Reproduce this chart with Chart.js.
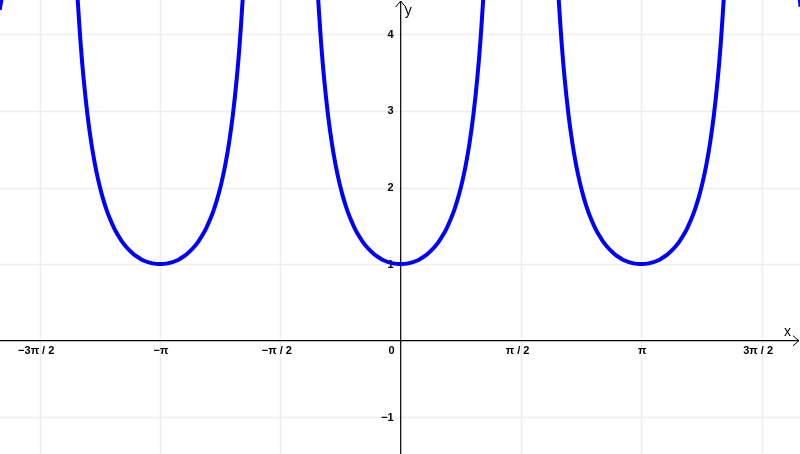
<!DOCTYPE html>
<html>
<head>
<meta charset="utf-8">
<script src="https://cdn.jsdelivr.net/npm/chart.js@4.4.1/dist/chart.umd.min.js"></script>
<style>
  html, body { margin: 0; padding: 0; background: #fff; }
  #plot { display: block; }
</style>
</head>
<body>
<canvas id="plot" width="800" height="454"></canvas>
<script>
// Values (x in radians, y)
const leftEdgeX = [-5.235, -5.215, -5.200];
const leftEdgeY = [4.32, 4.44, 4.55];

const branchNegPiX = [-4.22, -4.18, -4.14, -4.09, -4.04, -3.99, -3.94, -3.89, -3.84, -3.79, -3.74, -3.69, -3.64, -3.59, -3.54,
                      -3.49, -3.44, -3.39, -3.34, -3.29, -3.24, -3.19, -3.14, -3.09, -3.04, -2.99, -2.94, -2.89, -2.84, -2.79,
                      -2.74, -2.69, -2.64, -2.59, -2.54, -2.49, -2.44, -2.39, -2.34, -2.29, -2.24, -2.19, -2.14, -2.10, -2.06];
const branchZeroX = [-1.08, -1.04, -1.00, -0.95, -0.90, -0.85, -0.80, -0.75, -0.70, -0.65, -0.60, -0.55, -0.50, -0.45, -0.40,
                     -0.35, -0.30, -0.25, -0.20, -0.15, -0.10, -0.05, 0, 0.05, 0.10, 0.15, 0.20, 0.25, 0.30, 0.35,
                     0.40, 0.45, 0.50, 0.55, 0.60, 0.65, 0.70, 0.75, 0.80, 0.85, 0.90, 0.95, 1.00, 1.04, 1.08];
const branchPiX = [2.06, 2.10, 2.14, 2.19, 2.24, 2.29, 2.34, 2.39, 2.44, 2.49, 2.54, 2.59, 2.64, 2.69, 2.74,
                   2.79, 2.84, 2.89, 2.94, 2.99, 3.04, 3.09, 3.14, 3.19, 3.24, 3.29, 3.34, 3.39, 3.44, 3.49,
                   3.54, 3.59, 3.64, 3.69, 3.74, 3.79, 3.84, 3.89, 3.94, 3.99, 4.04, 4.09, 4.14, 4.18, 4.22];
// the three full branches have the same shape
const branchY = [4.501, 3.902, 3.426, 2.955, 2.588, 2.296, 2.060, 1.868, 1.709, 1.578, 1.468, 1.376, 1.298, 1.233, 1.179,
                 1.133, 1.096, 1.065, 1.041, 1.023, 1.010, 1.003, 1.000, 1.003, 1.010, 1.023, 1.041, 1.065, 1.096, 1.133,
                 1.179, 1.233, 1.298, 1.376, 1.468, 1.578, 1.709, 1.868, 2.060, 2.296, 2.588, 2.955, 3.426, 3.902, 4.501];

const rightEdgeX = [5.200, 5.210, 5.220];
const rightEdgeY = [4.55, 4.46, 4.36];

const xTickValues = [-1.5 * Math.PI, -Math.PI, -0.5 * Math.PI, 0.5 * Math.PI, Math.PI, 1.5 * Math.PI];
const xTickLabels = ['\u22123\u03c0 / 2', '\u2212\u03c0', '\u2212\u03c0 / 2', '\u03c0 / 2', '\u03c0', '3\u03c0 / 2'];
const yTickValues = [-1, 1, 2, 3, 4];
const yTickLabels = ['\u22121', '1', '2', '3', '4'];

const X_MIN = -5.231, X_MAX = 5.213;
const Y_MIN = -1.479, Y_MAX = 4.448;

function toPoints(xs, ys) {
    return xs.map((x, i) => ({ x: x, y: ys[i] }));
}

function curve(xs, ys) {
    return {
        data: toPoints(xs, ys),
        showLine: true,
        borderColor: '#0000ff',
        borderWidth: 4,
        pointRadius: 0,
        tension: 0.4,
        clip: false
    };
}

// grid, axes, arrows and labels drawn under the curves
const axesPlugin = {
    id: 'axes',
    beforeDatasetsDraw: function(chart) {
        const ctx = chart.ctx;
        const xs = chart.scales.x;
        const ys = chart.scales.y;
        const area = chart.chartArea;
        const ox = xs.getPixelForValue(0);
        const oy = ys.getPixelForValue(0);

        ctx.save();
        ctx.strokeStyle = '#eeeeee';
        ctx.lineWidth = 1.5;
        xTickValues.forEach(v => {
            const px = Math.round(xs.getPixelForValue(v)) + 0.5;
            ctx.beginPath();
            ctx.moveTo(px, area.top);
            ctx.lineTo(px, area.bottom);
            ctx.stroke();
        });
        yTickValues.forEach(v => {
            const py = Math.round(ys.getPixelForValue(v)) + 0.5;
            ctx.beginPath();
            ctx.moveTo(area.left, py);
            ctx.lineTo(area.right, py);
            ctx.stroke();
        });

        // axes
        ctx.strokeStyle = '#000';
        ctx.lineWidth = 1.2;
        ctx.beginPath();
        ctx.moveTo(area.left, oy);
        ctx.lineTo(area.right - 1, oy);
        ctx.moveTo(ox, area.bottom);
        ctx.lineTo(ox, area.top + 1);
        ctx.stroke();

        // arrow heads
        ctx.lineWidth = 1;
        ctx.beginPath();
        ctx.moveTo(area.right - 7, oy - 5);
        ctx.lineTo(area.right - 1, oy);
        ctx.lineTo(area.right - 7, oy + 5);
        ctx.moveTo(ox - 5, area.top + 7);
        ctx.lineTo(ox, area.top + 1);
        ctx.lineTo(ox + 5, area.top + 7);
        ctx.stroke();

        // tick labels
        ctx.fillStyle = '#000';
        ctx.font = 'bold 11px "Liberation Sans", Arial, sans-serif';
        ctx.textBaseline = 'middle';
        ctx.textAlign = 'center';
        xTickValues.forEach((v, i) => {
            const nudge = xTickLabels[i].indexOf('/') >= 0 ? -3.5 : 1;
            ctx.fillText(xTickLabels[i], xs.getPixelForValue(v) + nudge, oy + 10);
        });
        ctx.textAlign = 'right';
        yTickValues.forEach((v, i) => {
            ctx.fillText(yTickLabels[i], ox - 7, ys.getPixelForValue(v) + 0.5);
        });
        ctx.fillText('0', ox - 6, oy + 10);

        // axis names
        ctx.font = '14px "Liberation Sans", Arial, sans-serif';
        ctx.textAlign = 'left';
        ctx.fillText('y', ox + 4, area.top + 11);
        ctx.textAlign = 'right';
        ctx.fillText('x', area.right - 9, oy - 9);
        ctx.restore();
    }
};

new Chart(document.getElementById('plot'), {
    type: 'scatter',
    data: {
        datasets: [
            curve(leftEdgeX, leftEdgeY),
            curve(branchNegPiX, branchY),
            curve(branchZeroX, branchY),
            curve(branchPiX, branchY),
            curve(rightEdgeX, rightEdgeY)
        ]
    },
    options: {
        responsive: false,
        animation: false,
        devicePixelRatio: 1,
        layout: { padding: 0 },
        plugins: {
            legend: { display: false },
            tooltip: { enabled: false }
        },
        scales: {
            x: { type: 'linear', display: false, min: X_MIN, max: X_MAX },
            y: { type: 'linear', display: false, min: Y_MIN, max: Y_MAX }
        }
    },
    plugins: [axesPlugin]
});
</script>
</body>
</html>
